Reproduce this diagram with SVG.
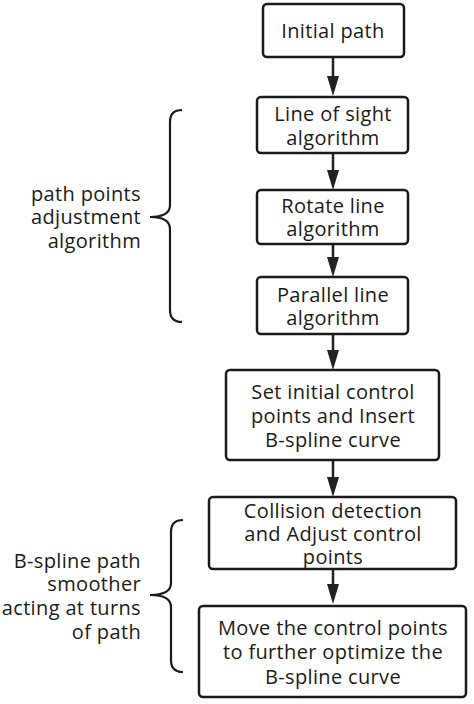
<svg xmlns="http://www.w3.org/2000/svg" width="474" height="704" viewBox="0 0 474 704">
<defs>
<style>
.box{fill:#fff;stroke:#1a1a1a;stroke-width:2.5}
.t{font-family:"Open Sans","Noto Sans","DejaVu Sans",sans-serif;font-size:20px;letter-spacing:0.35px;fill:#1a1a1a;text-anchor:middle}
.l{font-family:"Open Sans","Noto Sans","DejaVu Sans",sans-serif;font-size:20px;letter-spacing:0.35px;fill:#1a1a1a;text-anchor:end}
.c{stroke:#222;stroke-width:2.5;fill:none}
.br{stroke:#1a1a1a;stroke-width:2.2;fill:none}
.ah{fill:#222}
</style>
</defs>
<rect width="474" height="704" fill="#fff"/>
<g id="connectors">
<line class="c" x1="333" y1="57" x2="333" y2="80"/>
<path class="ah" d="M327,76 L339,76 L333,96 Z"/>
<line class="c" x1="333" y1="153" x2="333" y2="174"/>
<path class="ah" d="M327,170 L339,170 L333,190 Z"/>
<line class="c" x1="333" y1="244" x2="333" y2="262"/>
<path class="ah" d="M327,257 L339,257 L333,277 Z"/>
<line class="c" x1="333" y1="334" x2="333" y2="354"/>
<path class="ah" d="M327,350 L339,350 L333,370 Z"/>
<line class="c" x1="333" y1="460" x2="333" y2="480"/>
<path class="ah" d="M327,477 L339,477 L333,497 Z"/>
<line class="c" x1="333" y1="569" x2="333" y2="588"/>
<path class="ah" d="M327,584 L339,584 L333,604 Z"/>
</g>
<g id="n1"><rect class="box" x="263" y="4" width="141" height="53" rx="4"/><text class="t" x="333" y="38">Initial path</text></g>
<g id="n2"><rect class="box" x="257" y="97" width="151" height="56" rx="4"/><text class="t" x="333" y="121">Line of sight</text><text class="t" x="333" y="145">algorithm</text></g>
<g id="n3"><rect class="box" x="257" y="190" width="151" height="54" rx="4"/><text class="t" x="333" y="213">Rotate line</text><text class="t" x="333" y="236">algorithm</text></g>
<g id="n4"><rect class="box" x="257" y="277" width="151" height="57" rx="4"/><text class="t" x="333" y="302">Parallel line</text><text class="t" x="333" y="325">algorithm</text></g>
<g id="n5"><rect class="box" x="226" y="370" width="213" height="90" rx="4"/><text class="t" x="333" y="399">Set initial control</text><text class="t" x="333" y="423">points and Insert</text><text class="t" x="333" y="447">B-spline curve</text></g>
<g id="n6"><rect class="box" x="209" y="497" width="247" height="72" rx="4"/><text class="t" x="333" y="518">Collision detection</text><text class="t" x="333" y="541">and Adjust control</text><text class="t" x="333" y="564">points</text></g>
<g id="n7"><rect class="box" x="199" y="606" width="267" height="91" rx="4"/><text class="t" x="333" y="635">Move the control points</text><text class="t" x="333" y="659">to further optimize the</text><text class="t" x="333" y="684">B-spline curve</text></g>
<g id="brace1">
<path class="br" d="M182,110 Q170,110 170,122 L170,205 Q170,217 150,217 Q170,217 170,229 L170,310 Q170,322 182,322"/>
<text class="l" x="141" y="201">path points</text><text class="l" x="141" y="224">adjustment</text><text class="l" x="141" y="248">algorithm</text>
</g>
<g id="brace2">
<path class="br" d="M183,520 Q171,520 171,532 L171,583 Q171,595 150,595 Q171,595 171,607 L171,660 Q171,672 183,672"/>
<text class="l" x="141" y="568">B-spline path</text><text class="l" x="141" y="591">smoother</text><text class="l" x="141" y="615">acting at turns</text><text class="l" x="141" y="639">of path</text>
</g>
</svg>
